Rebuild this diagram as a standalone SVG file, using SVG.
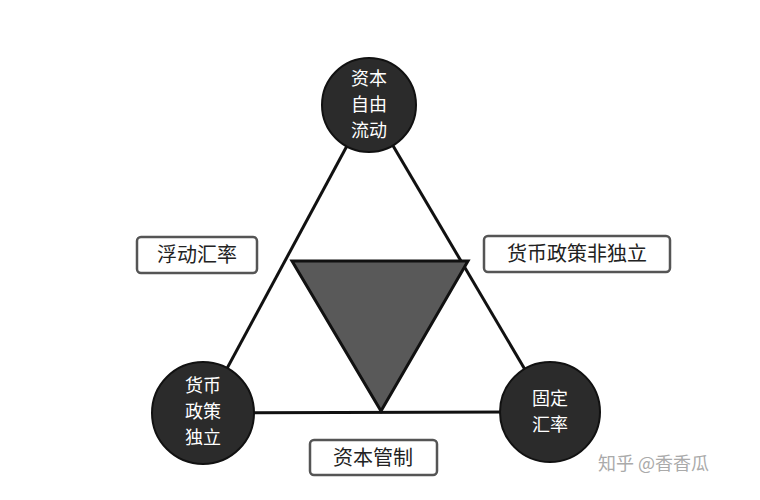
<svg xmlns="http://www.w3.org/2000/svg" width="760" height="500" viewBox="0 0 760 500">
<style>
.c{fill:#2b2b2b;stroke:#111;stroke-width:2}
.ct{fill:#fff;font-family:"Noto Sans CJK SC",sans-serif;font-size:18px;text-anchor:middle}
.b{fill:#fff;stroke:#555;stroke-width:2.5}
.bt{fill:#222;font-family:"Noto Sans CJK SC",sans-serif;font-size:20px;text-anchor:middle}
</style>
<rect width="760" height="500" fill="#fff"/>
<g id="connectors" stroke="#111" stroke-width="3" fill="none">
<line x1="369" y1="105" x2="203" y2="413"/>
<line x1="369" y1="105" x2="550" y2="412"/>
<line x1="203" y1="413" x2="550" y2="412"/>
</g>
<g id="inner"><polygon points="292,261 468,261 381,411" fill="#595959" stroke="#111" stroke-width="3"/></g>
<g id="top"><circle class="c" cx="369" cy="105" r="47"/>
<text class="ct" x="369" y="85">资本</text><text class="ct" x="369" y="111">自由</text><text class="ct" x="369" y="137">流动</text></g>
<g id="bl"><circle class="c" cx="203" cy="413" r="51"/>
<text class="ct" x="203" y="392">货币</text><text class="ct" x="203" y="418">政策</text><text class="ct" x="203" y="444">独立</text></g>
<g id="br"><circle class="c" cx="550" cy="412" r="50"/>
<text class="ct" x="550" y="405">固定</text><text class="ct" x="550" y="431">汇率</text></g>
<g id="l1"><rect class="b" x="137" y="237" width="120" height="36" rx="4"/><text class="bt" x="197" y="262">浮动汇率</text></g>
<g id="l2"><rect class="b" x="484" y="236" width="186" height="36" rx="4"/><text class="bt" x="577" y="261">货币政策非独立</text></g>
<g id="l3"><rect class="b" x="310" y="440" width="127" height="35" rx="4"/><text class="bt" x="373" y="465">资本管制</text></g>
<text x="598" y="470" font-family="Noto Sans CJK SC,sans-serif" font-size="18" fill="#aaa">知乎 @香香瓜</text>
</svg>
